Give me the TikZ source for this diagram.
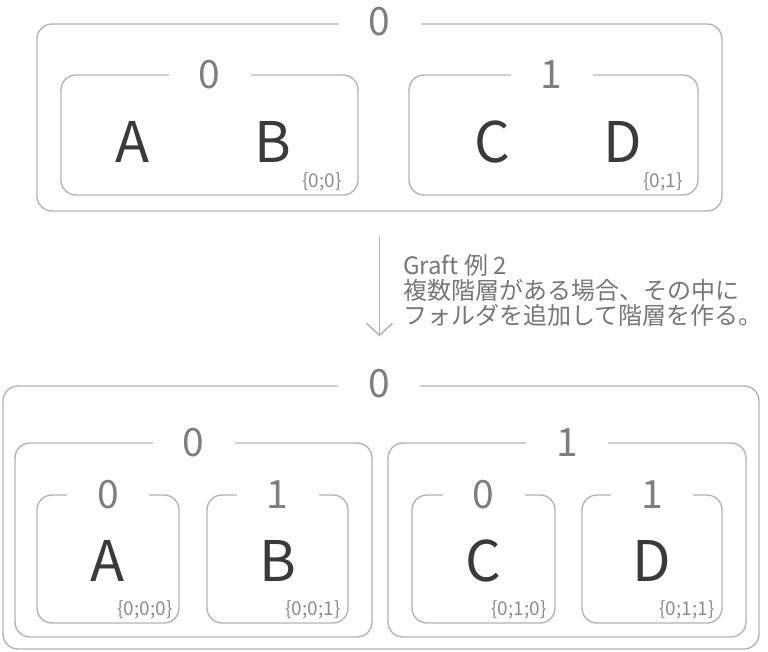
\documentclass[tikz,border=0pt]{standalone}
\usepackage{fontspec}
\setmainfont{Noto Sans CJK JP}
\usetikzlibrary{arrows.meta}

\definecolor{boxgray}{HTML}{B4B4B4}
\definecolor{idxgray}{HTML}{7E7E7E}
\definecolor{leafgray}{HTML}{3A3A3A}
\definecolor{addrgray}{HTML}{8C8C8C}
\definecolor{notegray}{HTML}{777777}

\tikzset{
    box/.style={draw=boxgray, line width=1.4pt, rounded corners=15pt, inner sep=0pt},
    idx/.style={fill=white, minimum width=82pt, inner sep=0pt, text=idxgray,
        font=\fontsize{39}{39}\selectfont},
    leaf/.style={text=leafgray, inner sep=0pt, font=\fontsize{56}{56}\selectfont},
    addr/.style={text=addrgray, inner sep=0pt, anchor=south east,
        font=\fontsize{19}{19}\selectfont},
}

\begin{document}
\begin{tikzpicture}[x=1pt, y=-1pt]
    \useasboundingbox (0,0) rectangle (768,651);

    % Before: two levels
    \node[box, minimum width=685pt, minimum height=187pt] (r0) at (379.5,117.5) {};
    \node[box, minimum width=297pt, minimum height=120pt] (r00) at (209.5,135) {};
    \node[box, minimum width=289pt, minimum height=120pt] (r01) at (553.5,135) {};

    \node[idx] (lr0) at ([yshift=2pt]r0.north) {0};
    \node[idx] (lr00) at (r00.north) {0};
    \node[idx] (lr01) at ([xshift=-2pt]r01.north) {1};

    \node[leaf] (ra) at (133,142) {A};
    \node[leaf] (rb) at (273,142) {B};
    \node[leaf] (rc) at (492,142) {C};
    \node[leaf] (rd) at (623,142) {D};

    \node[addr] (ar00) at ([xshift=-17pt, yshift=4pt]r00.south east) {\{0;0\}};
    \node[addr] (ar01) at ([xshift=-16pt, yshift=4pt]r01.south east) {\{0;1\}};

    % After: three levels
    \node[box, minimum width=756pt, minimum height=263pt] (s0) at (381,517.5) {};
    \node[box, minimum width=357pt, minimum height=194pt] (s00) at (193.5,540) {};
    \node[box, minimum width=358pt, minimum height=194pt] (s01) at (567,540) {};
    \node[box, minimum width=142pt, minimum height=128pt] (s000) at (108,559) {};
    \node[box, minimum width=141pt, minimum height=128pt] (s001) at (277.5,559) {};
    \node[box, minimum width=143pt, minimum height=128pt] (s010) at (483.5,559) {};
    \node[box, minimum width=140pt, minimum height=128pt] (s011) at (652,559) {};

    \node[idx] (ls0) at ([xshift=-2pt, yshift=2pt]s0.north) {0};
    \node[idx] (ls00) at (s00.north) {0};
    \node[idx] (ls01) at (s01.north) {1};
    \node[idx] (ls000) at (s000.north) {0};
    \node[idx] (ls001) at (s001.north) {1};
    \node[idx] (ls010) at (s010.north) {0};
    \node[idx] (ls011) at (s011.north) {1};

    \node[leaf] (sa) at ([yshift=-2pt]s000.center) {A};
    \node[leaf] (sb) at ([yshift=-2pt]s001.center) {B};
    \node[leaf] (sc) at ([yshift=-2pt]s010.center) {C};
    \node[leaf] (sd) at ([yshift=-2pt]s011.center) {D};

    \node[addr] (as000) at ([xshift=-7pt, yshift=4pt]s000.south east) {\{0;0;0\}};
    \node[addr] (as001) at ([xshift=-8pt, yshift=4pt]s001.south east) {\{0;0;1\}};
    \node[addr] (as010) at ([xshift=-9pt, yshift=4pt]s010.south east) {\{0;1;0\}};
    \node[addr] (as011) at ([xshift=-8pt, yshift=4pt]s011.south east) {\{0;1;1\}};

    % Graft arrow and note
    \draw[-{Straight Barb[length=12pt, width=26pt]}, line width=1.5pt, draw=boxgray,
        shorten <=24pt, shorten >=49pt] (r0.south) -- (r0.south |- s0.north);
    \node[anchor=west, align=left, inner sep=0pt, text=notegray,
        font=\fontsize{24}{25}\selectfont] (note) at (403,290)
        {Graft 例 2\\複数階層がある場合、その中に\\フォルダを追加して階層を作る。};
\end{tikzpicture}
\end{document}
